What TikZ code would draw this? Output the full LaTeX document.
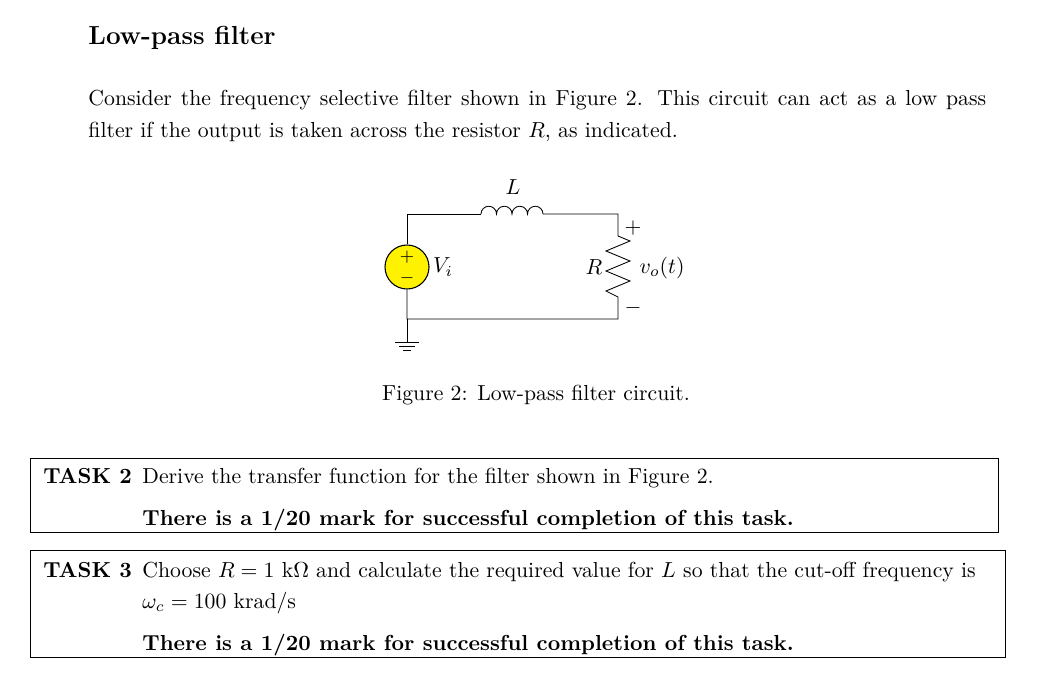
\documentclass[tikz,border=0pt]{standalone}
\usetikzlibrary{calc}
\begin{document}
\begin{tikzpicture}[x=0.46pt,y=0.46pt,
  wire/.style={line width=0.4pt},
  txt/.style={inner sep=0pt,anchor=base west},
  taskbox/.style={draw,line width=0.4pt}]
\useasboundingbox (0,0) rectangle (1046,-683);
\node[txt] (title) at (88,-45) {\large\bfseries Low-pass filter};
\node[inner sep=0pt,anchor=base west,text width=413pt,align=justify] (para) at (88,-106)
 {\baselineskip=14.3pt Consider the frequency selective filter shown in Figure 2. This circuit can act as a low pass filter if the output is taken across the resistor $R$, as indicated.\par};
% circuit
\coordinate (tl) at (407,-214); \coordinate (bl) at (407,-319);
\coordinate (tr) at (618,-214); \coordinate (br) at (618,-319);
\coordinate (l1) at (481,-214); \coordinate (l2) at (543,-214);
\coordinate (r1) at (618,-236); \coordinate (r2) at (618,-297);
\coordinate (gnd) at (407,-342);
\node[circle,draw,fill=yellow,minimum size=44*0.46pt,inner sep=0pt,line width=0.5pt] (src) at (407,-267) {};
\node[inner sep=0pt] (pl) at (407,-257) {\footnotesize$+$};
\node[inner sep=0pt] (mi) at (407,-278) {\footnotesize$-$};
\draw[wire] (src.north) -- (tl) -- (l1);
\draw[wire] (l1) arc[start angle=180,end angle=0,radius=7.75]
  arc[start angle=180,end angle=0,radius=7.75]
  arc[start angle=180,end angle=0,radius=7.75]
  arc[start angle=180,end angle=0,radius=7.75];
\draw[wire] (l2) -- (tr) -- (r1) -- ++(12,-5) -- ++(-24,-10) -- ++(24,-10) -- ++(-24,-10) -- ++(24,-10) -- ++(-24,-10) -- (r2) -- (br) -- (bl) -- (src.south);
\draw[wire] (bl) -- (gnd);
\draw[wire] ($(gnd)+(-12,0)$) -- ($(gnd)+(12,0)$);
\draw[wire] ($(gnd)+(-8,-4)$) -- ($(gnd)+(8,-4)$);
\draw[wire] ($(gnd)+(-4,-8)$) -- ($(gnd)+(4,-8)$);
\node (Ll) at (513,-187) {$L$};
\node (Vl) at (443,-267) {$V_i$};
\node (Rl) at (594,-267) {$R$};
\node (vo) at (662,-268) {$v_o(t)$};
\node (pp) at (633,-228) {$+$};
\node (mm) at (633,-308) {$-$};
\node (cap) at (536,-395) {Figure 2: Low-pass filter circuit.};
% tasks
\draw[taskbox] (30,-458) rectangle (998,-532);
\node[txt] (t2) at (43,-483) {\textbf{TASK 2}};
\node[txt] (t2a) at (142,-483) {Derive the transfer function for the filter shown in Figure 2.};
\node[txt] (t2b) at (142,-525) {\textbf{There is a 1/20 mark for successful completion of this task.}};
\draw[taskbox] (30,-550) rectangle (1005,-657);
\node[txt] (t3) at (43,-577) {\textbf{TASK 3}};
\node[txt] (t3a) at (142,-577) {Choose $R=1$ k$\Omega$ and calculate the required value for $L$ so that the cut-off frequency is};
\node[txt] (t3b) at (142,-608) {$\omega_c=100$ krad/s};
\node[txt] (t3c) at (142,-650) {\textbf{There is a 1/20 mark for successful completion of this task.}};
\end{tikzpicture}
\end{document}
